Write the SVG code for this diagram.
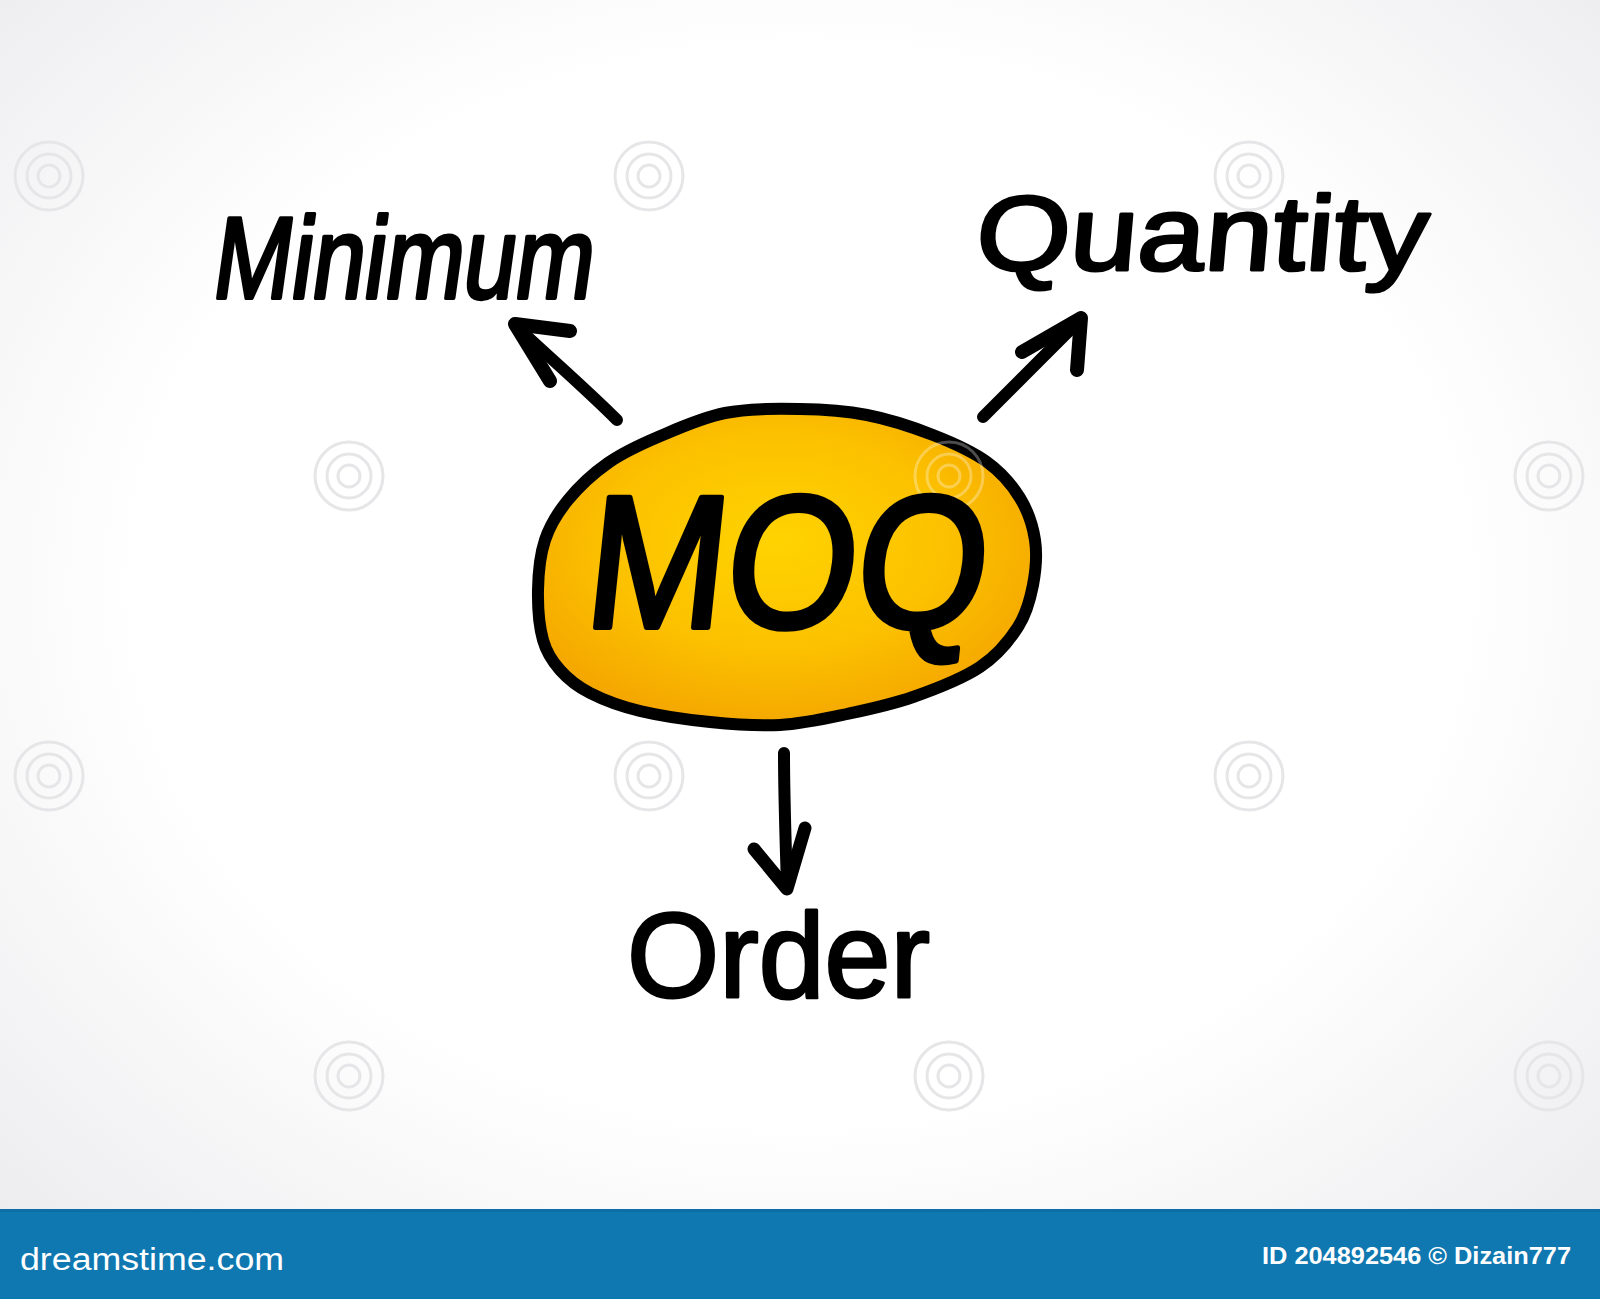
<svg xmlns="http://www.w3.org/2000/svg" width="1600" height="1299" viewBox="0 0 1600 1299">
<defs>
<radialGradient id="bg" cx="50%" cy="45%" r="75%">
<stop offset="0" stop-color="#ffffff"/>
<stop offset="0.55" stop-color="#ffffff"/>
<stop offset="1" stop-color="#e9e9ec"/>
</radialGradient>
<radialGradient id="fillG" cx="48%" cy="42%" r="62%">
<stop offset="0" stop-color="#ffd300"/>
<stop offset="0.55" stop-color="#fcc100"/>
<stop offset="1" stop-color="#f3a300"/>
</radialGradient>
<g id="spiral">
<circle r="34" fill="none" stroke-width="3"/>
<circle r="22" fill="none" stroke-width="3"/>
<circle r="11" fill="none" stroke-width="3"/>
</g>
</defs>
<style>
.hand{font-family:"Liberation Sans","Arial",sans-serif;fill:#000;stroke:#000;stroke-linejoin:round;stroke-linecap:round}
.wm{stroke:#e6e6e8}
.arrow{fill:none;stroke:#000;stroke-linecap:round;stroke-linejoin:round}
.foot{font-family:"Liberation Sans","Arial",sans-serif;fill:#fff}
</style>
<rect x="0" y="0" width="1600" height="1299" fill="url(#bg)"/>
<g id="watermarks" class="wm">
<use href="#spiral" x="49" y="176"/>
<use href="#spiral" x="649" y="176"/>
<use href="#spiral" x="1249" y="176"/>
<use href="#spiral" x="349" y="476"/>
<use href="#spiral" x="1549" y="476"/>
<use href="#spiral" x="49" y="776"/>
<use href="#spiral" x="649" y="776"/>
<use href="#spiral" x="1249" y="776"/>
<use href="#spiral" x="349" y="1076"/>
<use href="#spiral" x="949" y="1076"/>
<use href="#spiral" x="1549" y="1076"/>
</g>
<g id="node-moq">
<path d="M725,413 C748.7,408.3 776.3,408.7 800,409 C823.7,409.3 844.8,410.7 867,415 C889.2,419.3 913,427.2 933,435 C953,442.8 972.5,451.5 987,462 C1001.5,472.5 1012,485 1020,498 C1028,511 1032.8,525.5 1035,540 C1037.2,554.5 1035.8,570.5 1033,585 C1030.2,599.5 1026.8,613.3 1018,627 C1009.2,640.7 997.5,655.3 980,667 C962.5,678.7 935.2,689.2 913,697 C890.8,704.8 869.2,709.3 847,714 C824.8,718.7 802.8,723.7 780,725 C757.2,726.3 733.3,724.3 710,722 C686.7,719.7 660,715.8 640,711 C620,706.2 603.3,699.8 590,693 C576.7,686.2 567.8,678.8 560,670 C552.2,661.2 546.7,653.3 543,640 C539.3,626.7 537.7,606.7 538,590 C538.3,573.3 540,555 545,540 C550,525 557.5,512.8 568,500 C578.5,487.2 593,473.5 608,463 C623,452.5 638.5,445.3 658,437 C677.5,428.7 701.3,417.7 725,413 Z" fill="url(#fillG)" stroke="#000" stroke-width="12" stroke-linejoin="round"/>
<use href="#spiral" x="949" y="476" style="stroke:#ffffff;opacity:0.3"/>
<text class="hand" x="582" y="627" font-size="188" stroke-width="6" textLength="400" lengthAdjust="spacingAndGlyphs" transform="skewX(-6) translate(66,0)">MOQ</text>
</g>
<g id="node-minimum">
<text class="hand" x="210" y="298" font-size="116" stroke-width="4" textLength="380" lengthAdjust="spacingAndGlyphs" transform="skewX(-8) translate(42,0)">Minimum</text>
</g>
<g id="node-quantity">
<text class="hand" x="973" y="270" font-size="106" stroke-width="3" textLength="452" lengthAdjust="spacingAndGlyphs" transform="skewX(-5) translate(24,0)">Quantity</text>
</g>
<g id="node-order">
<text class="hand" x="627" y="997" font-size="120" stroke-width="3" textLength="303" lengthAdjust="spacingAndGlyphs">Order</text>
</g>
<g id="connectors">
<path class="arrow" stroke-width="12" d="M617,420 C585,388 550,358 515,325"/>
<path class="arrow" stroke-width="14" d="M570,331 L515,324 L550,381"/>
<path class="arrow" stroke-width="12" d="M983,417 C1010,390 1050,350 1081,319"/>
<path class="arrow" stroke-width="14" d="M1022,352 L1081,318 L1077,370"/>
<path class="arrow" stroke-width="12" d="M784,753 C784,800 786,850 787,888"/>
<path class="arrow" stroke-width="13" d="M754,849 L787,889 L805,828"/>
</g>
<g id="footer">
<rect x="0" y="1209" width="1600" height="90" fill="#0f78b1"/>
<rect x="0" y="1209" width="1600" height="3" fill="#0c6ea4"/>
<text class="foot" x="20" y="1270" font-size="31" textLength="264" lengthAdjust="spacingAndGlyphs">dreamstime.com</text>
<text class="foot" x="1262" y="1264" font-size="24" font-weight="bold" textLength="309" lengthAdjust="spacingAndGlyphs">ID 204892546 © Dizain777</text>
</g>
</svg>
